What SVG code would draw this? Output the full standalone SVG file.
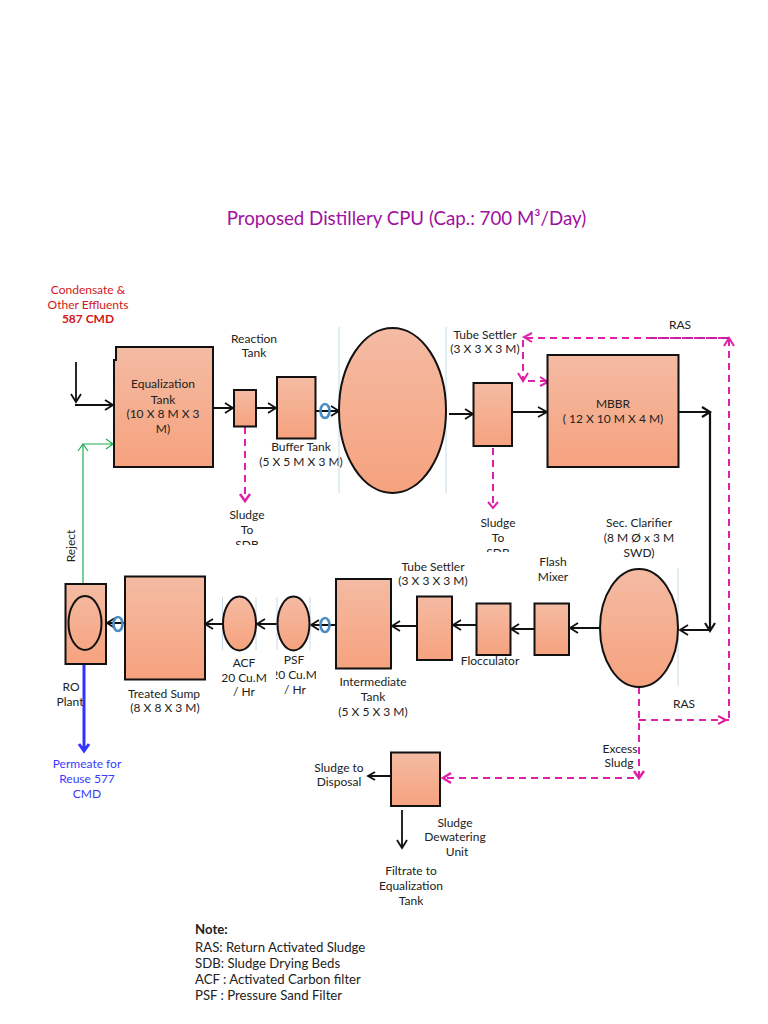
<svg xmlns="http://www.w3.org/2000/svg" width="768" height="1024" viewBox="0 0 768 1024">
<style>
text{font-family:"Lato","Open Sans","Liberation Sans",sans-serif;font-size:12px;fill:#222;text-anchor:middle}
.n{fill:url(#g);stroke:#111;stroke-width:2}
.b{fill:none;stroke:#111;stroke-width:1.8}
.d{fill:none;stroke:#e020a8;stroke-width:2;stroke-dasharray:7 5}
.h{fill:none;stroke:#e020a8;stroke-width:2}
.p{fill:none;stroke:#4a8cc4;stroke-width:2.6}
.f{stroke:#c5dbe8;stroke-width:1;fill:none}
.red{fill:#d01818}.blue{fill:#3a3aff}
.l{text-anchor:start;font-size:13.200px}
</style>
<defs>
<linearGradient id="g" x1="0" y1="0" x2="0" y2="1"><stop offset="0" stop-color="#f4bba3"/><stop offset="1" stop-color="#f6a27e"/></linearGradient>
<clipPath id="c1"><rect x="200" y="500" width="90" height="45"/></clipPath>
<clipPath id="c2"><rect x="450" y="510" width="90" height="42"/></clipPath>
<clipPath id="c4"><rect x="276" y="660" width="40" height="40"/></clipPath>
</defs>
<rect width="768" height="1024" fill="#fff"/>
<text x="406.500" y="225" style="font-size:18.700px;fill:#a010a0">Proposed Distillery CPU (Cap.: 700 M³/Day)</text>

<g id="connectors">
<path class="b" d="M76 362V402M71 394L76 402L81 394"/>
<path class="b" d="M75 405H113M105 400L113 405L105 410"/>
<path fill="none" stroke="#20b050" stroke-width="1.200" d="M83 584V444H113M106 439L113 444L106 449M78 451L83 444L88 451"/>
<path class="b" d="M213 408H233M225 403L233 408L225 413"/>
<path class="b" d="M256 408H276M268 403L276 408L268 413"/>
<path class="b" d="M315 411H339M331 406L339 411L331 416"/>
<path class="b" d="M449 414H473M465 409L473 414L465 419"/>
<path class="b" d="M512 412H547M538 407L547 412L538 417"/>
<path class="b" style="stroke-width:2.200" d="M678 412H710M702 407L710 412L702 417M710 412V630M705 623L710 631L715 623"/>
<path class="b" d="M710 630H680M688 625L680 630L688 635"/>
<path class="b" d="M601 628H570M578 623L570 628L578 633"/>
<path class="b" d="M534 629H511M519 624L511 629L519 634"/>
<path class="b" d="M476 625H453M461 620L453 625L461 630"/>
<path class="b" d="M417 626H392M400 621L392 626L400 631"/>
<path class="b" d="M336 625H311M319 620L311 625L319 630"/>
<path class="b" d="M277 624H257M265 619L257 624L265 629"/>
<path class="b" d="M223 624H205M213 619L205 624L213 629"/>
<path class="b" d="M125 623H107M115 618L107 623L115 628"/>
<path fill="none" stroke="#3333ff" stroke-width="3" d="M84 664V750M79 744L84 751L89 744"/>
<path class="b" d="M391 776H368M375 772L368 776L375 780"/>
<path class="b" d="M402 810V848M397 840L402 848L407 840"/>
<path class="d" d="M245 427V495"/><path class="h" style="stroke-width:2.500" d="M240 494L245 501L250 494"/>
<path class="d" d="M493 448V505"/><path class="h" d="M488 502L493 508L498 502"/>
<path class="d" d="M729 718V338H523V380"/>
<path class="d" style="stroke:#c0209a" d="M650 338H729"/>
<path class="h" d="M724 346L729 338L734 346M532 333L524 337L532 342M518 373L523 381L528 373"/>
<path class="d" d="M528 381H547"/><path class="h" d="M540 377L548 382L540 386"/>
<path class="d" d="M639 687V778H443"/>
<path class="h" style="stroke-width:2.500" d="M634 771L639 778L644 771M451 773L443 778L451 783"/>
<path class="d" d="M639 720H729"/><path class="h" d="M718 716L726 720L718 724"/>
</g>

<g id="equalization-tank"><path class="n" d="M116 347H213V467H114V360H116Z"/><text x="163" y="388">Equalization</text><text x="163" y="404">Tank</text><text x="163" y="418">(10 X 8 M X 3</text><text x="163" y="433">M)</text></g>
<g id="reaction-tank"><rect class="n" x="234" y="390" width="22" height="36.500"/><text x="254" y="343">Reaction</text><text x="254" y="357">Tank</text></g>
<g id="buffer-tank"><rect class="n" x="277" y="377" width="38.500" height="61.500"/><text x="301" y="451">Buffer Tank</text><text x="301" y="466">(5 X 5 M X 3 M)</text></g>
<g id="pump-1"><ellipse class="p" cx="325" cy="411" rx="4.500" ry="7"/></g>
<g id="big-tank"><path class="f" d="M339 327V493M446 327V493"/><ellipse class="n" cx="392.500" cy="410.500" rx="53.500" ry="82.500"/></g>
<g id="tube-settler-1"><rect class="n" x="473.500" y="383" width="38.500" height="63"/><text x="485" y="339">Tube Settler</text><text x="485" y="353">(3 X 3 X 3 M)</text></g>
<g id="sludge-sdb-1"><g clip-path="url(#c1)"><text x="247" y="519">Sludge</text><text x="247" y="534">To</text><text x="247" y="549">SDB</text></g></g>
<g id="sludge-sdb-2"><g clip-path="url(#c2)"><text x="498" y="527">Sludge</text><text x="498" y="542">To</text><text x="498" y="557">SDB</text></g></g>
<g id="mbbr"><rect class="n" x="547.500" y="355" width="131" height="112"/><text x="613" y="408">MBBR</text><text x="613" y="423">( 12 X 10 M X 4 M)</text></g>
<text x="680" y="329">RAS</text>
<g id="sec-clarifier"><path class="f" d="M678 568V686"/><ellipse class="n" cx="639" cy="628" rx="39" ry="59"/><text x="639" y="527">Sec. Clarifier</text><text x="639" y="542">(8 M Ø  x 3 M</text><text x="639" y="557">SWD)</text></g>
<text x="684" y="708">RAS</text>
<g id="flash-mixer"><rect class="n" x="534.500" y="603.500" width="34.500" height="51.500"/><text x="553" y="566">Flash</text><text x="553" y="581">Mixer</text></g>
<g id="flocculator"><rect class="n" x="476.500" y="603.500" width="34" height="51.500"/><text x="490" y="665">Flocculator</text></g>
<g id="tube-settler-2"><rect class="n" x="417" y="596.500" width="35" height="63.500"/><text x="433" y="571">Tube Settler</text><text x="433" y="585">(3 X 3 X 3 M)</text></g>
<g id="intermediate-tank"><rect class="n" x="336" y="579" width="55" height="89.500"/><text x="373" y="686">Intermediate</text><text x="373" y="701">Tank</text><text x="373" y="716">(5 X 5 X 3 M)</text></g>
<g id="pump-2"><ellipse class="p" cx="325" cy="625" rx="4.500" ry="7"/></g>
<g id="psf"><path class="f" d="M277 597V650M310 597V650"/><ellipse class="n" cx="293.500" cy="623.500" rx="16" ry="27"/><text x="294" y="664">PSF</text><g clip-path="url(#c4)"><text x="294" y="679">20 Cu.M</text></g><text x="295" y="694">/ Hr</text></g>
<g id="acf"><path class="f" d="M222.500 597V650M256 597V650"/><ellipse class="n" cx="239.500" cy="623.500" rx="16.500" ry="27"/><text x="244" y="667">ACF</text><text x="244" y="682">20 Cu.M</text><text x="244" y="696">/ Hr</text></g>
<g id="treated-sump"><rect class="n" x="125" y="576.500" width="80" height="103"/><text x="164" y="698">Treated Sump</text><text x="165" y="712">(8 X 8 X 3 M)</text></g>
<g id="pump-3"><ellipse class="p" cx="118" cy="624" rx="4.500" ry="7"/></g>
<g id="ro-plant"><rect class="n" x="65.500" y="584" width="40.500" height="80"/><ellipse cx="85" cy="623" rx="16.500" ry="27" fill="none" stroke="#111" stroke-width="2"/><text x="71" y="691">RO</text><text x="70" y="706">Plant</text></g>
<g id="dewatering"><rect class="n" x="391" y="752.500" width="49" height="53.500"/><text x="455" y="827">Sludge</text><text x="455" y="841">Dewatering</text><text x="457" y="856">Unit</text></g>
<text x="339" y="772">Sludge to</text><text x="339" y="786">Disposal</text>
<text x="411" y="875">Filtrate to</text><text x="411" y="890">Equalization</text><text x="411" y="905">Tank</text>
<text x="620" y="753">Excess</text><text x="619" y="767">Sludg</text>
<text transform="translate(75 546) rotate(-90)">Reject</text>
<g id="source"><text class="red" x="88" y="294">Condensate &amp;</text><text class="red" x="88" y="309">Other Effluents</text><text class="red" x="88" y="323" style="font-weight:700">587 CMD</text></g>
<g id="permeate"><text class="blue" x="87" y="768">Permeate for</text><text class="blue" x="87" y="783">Reuse 577</text><text class="blue" x="87" y="798">CMD</text></g>
<g id="note"><text class="l" x="195" y="934" style="font-weight:700">Note:</text><text class="l" x="195" y="952">RAS: Return Activated Sludge</text><text class="l" x="195" y="968">SDB: Sludge Drying Beds</text><text class="l" x="195" y="984">ACF : Activated Carbon filter</text><text class="l" x="195" y="1000">PSF : Pressure Sand Filter</text></g>
</svg>
